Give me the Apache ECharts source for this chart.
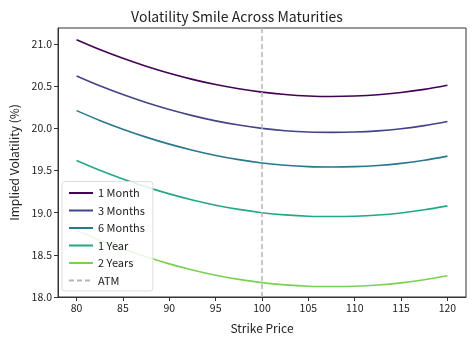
<!DOCTYPE html>
<html>
<head>
<meta charset="utf-8">
<script src="https://cdn.jsdelivr.net/npm/echarts@6/dist/echarts.min.js"></script>
<style>
  html, body { margin: 0; padding: 0; background: #fff; }
  #chart { width: 474px; height: 343px; }
</style>
</head>
<body>
<div id="chart"></div>
<script>
// strikes and vols
const strikes = [80, 82.5, 85, 87.5, 90, 92.5, 95, 97.5, 100, 102.5, 105, 107.5, 110, 112.5, 115, 117.5, 120]
const oneMonth = [21.050, 20.934, 20.830, 20.736, 20.653, 20.581, 20.519, 20.469, 20.430, 20.402, 20.384, 20.378, 20.383, 20.398, 20.425, 20.462, 20.511]
const threeMonths = [20.620, 20.504, 20.400, 20.306, 20.223, 20.151, 20.089, 20.039, 20.000, 19.972, 19.956, 19.952, 19.956, 19.970, 19.995, 20.032, 20.081]
const sixMonths = [20.210, 20.094, 19.990, 19.896, 19.813, 19.741, 19.679, 19.629, 19.590, 19.562, 19.546, 19.542, 19.546, 19.560, 19.585, 19.622, 19.671]
const oneYear = [19.620, 19.504, 19.400, 19.306, 19.223, 19.151, 19.089, 19.039, 19.000, 18.974, 18.958, 18.954, 18.958, 18.972, 18.997, 19.034, 19.081]
const twoYears = [18.790, 18.674, 18.570, 18.476, 18.393, 18.321, 18.259, 18.209, 18.170, 18.144, 18.128, 18.124, 18.128, 18.142, 18.167, 18.204, 18.251]
const atmStrike = 100
const xTicks = [80, 85, 90, 95, 100, 105, 110, 115, 120]
const yTicks = [18.0, 18.5, 19.0, 19.5, 20.0, 20.5, 21.0]

const font = '"Noto Sans CJK SC", "Noto Sans", sans-serif'
const chart = echarts.init(document.getElementById('chart'))

const curves = [
  { name: '1 Month', vals: oneMonth, color: '#440154' },
  { name: '3 Months', vals: threeMonths, color: '#414487' },
  { name: '6 Months', vals: sixMonths, color: '#2a788e' },
  { name: '1 Year', vals: oneYear, color: '#22a884' },
  { name: '2 Years', vals: twoYears, color: '#7ad151' },
]

const series = curves.map(c => ({
  name: c.name,
  type: 'line',
  smooth: 0.3,
  symbol: 'none',
  data: strikes.map((k, i) => [k, c.vals[i]]),
  lineStyle: { color: c.color, width: 1.6 },
  itemStyle: { color: c.color },
}))

// ATM vertical line
series.push({
  name: 'ATM',
  type: 'line',
  symbol: 'none',
  data: [],
  lineStyle: { color: '#b5b5b5', type: [5, 3], width: 1.5 },
  itemStyle: { color: '#b5b5b5' },
  markLine: {
    silent: true,
    symbol: 'none',
    label: { show: false },
    lineStyle: { color: '#b5b5b5', type: [5, 3], width: 1.5 },
    data: [{ xAxis: atmStrike }],
  },
})

chart.setOption({
  animation: false,
  textStyle: { fontFamily: font },
  title: {
    text: 'Volatility Smile Across Maturities',
    left: 'center',
    top: 5,
    textStyle: { fontFamily: font, fontSize: 14, fontWeight: 'normal', color: '#222' },
  },
  grid: {
    left: 57, right: 8, top: 28, bottom: 46,
    show: true, borderColor: '#333', borderWidth: 1,
  },
  legend: {
    orient: 'vertical',
    left: 62,
    bottom: 52,
    itemWidth: 24,
    itemHeight: 10,
    itemGap: 6.5,
    padding: [6, 8, 5, 6],
    backgroundColor: 'rgba(255,255,255,0.85)',
    borderColor: '#dddddd',
    borderWidth: 1,
    borderRadius: 3,
    itemStyle: { opacity: 0 },
    textStyle: { fontFamily: font, fontSize: 11, color: '#222' },
    data: curves.map(c => c.name).concat(['ATM']),
  },
  xAxis: {
    type: 'value',
    min: 78,
    max: 122,
    name: 'Strike Price',
    nameLocation: 'middle',
    nameGap: 25,
    nameTextStyle: { fontFamily: font, fontSize: 12, color: '#222' },
    axisLine: { show: true, lineStyle: { color: '#333' } },
    axisTick: { show: true, customValues: xTicks, length: 4, lineStyle: { color: '#333' } },
    axisLabel: { customValues: xTicks, fontFamily: font, fontSize: 10.5, color: '#222', margin: 6 },
    splitLine: { show: false },
  },
  yAxis: {
    type: 'value',
    min: 18.0,
    max: 21.19,
    name: 'Implied Volatility (%)',
    nameLocation: 'middle',
    nameGap: 38,
    nameTextStyle: { fontFamily: font, fontSize: 12, color: '#222' },
    axisLine: { show: true, lineStyle: { color: '#333' } },
    axisTick: { show: true, customValues: yTicks, length: 4, lineStyle: { color: '#333' } },
    axisLabel: {
      customValues: yTicks,
      fontFamily: font, fontSize: 10.5, color: '#222', margin: 6,
      formatter: v => v.toFixed(1),
    },
    splitLine: { show: false },
  },
  series: series,
})
</script>
</body>
</html>
